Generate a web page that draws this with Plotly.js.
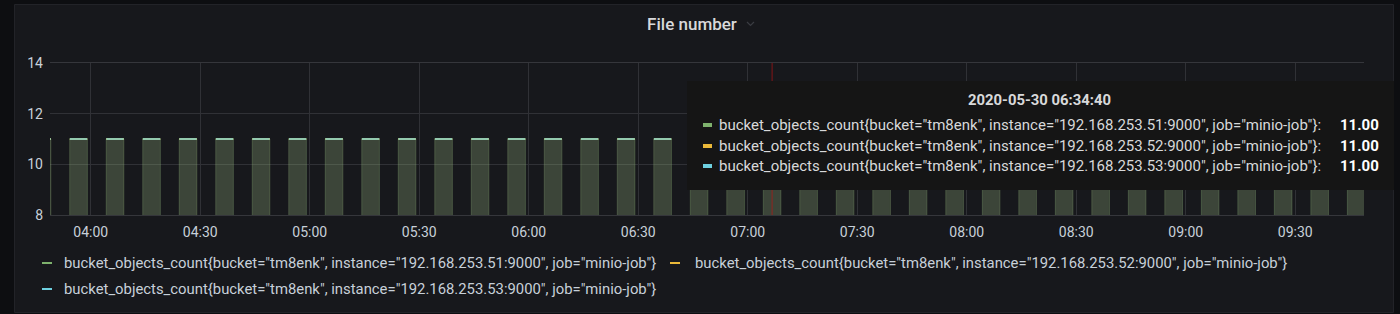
<!DOCTYPE html>
<html>
<head>
<meta charset="utf-8">
<script src="https://cdn.plot.ly/plotly-3.0.1.min.js"></script>
<style>
html,body{margin:0;padding:0;background:#0d0e11;}
#chart{width:1400px;height:314px;}
</style>
</head>
<body>
<div id="chart"></div>
<script>
// ---------- data ----------
const times = [
  '2020-05-30 03:46:40','2020-05-30 03:56:40',
  '2020-05-30 04:06:40','2020-05-30 04:16:40','2020-05-30 04:26:40','2020-05-30 04:36:40','2020-05-30 04:46:40','2020-05-30 04:56:40',
  '2020-05-30 05:06:40','2020-05-30 05:16:40','2020-05-30 05:26:40','2020-05-30 05:36:40','2020-05-30 05:46:40','2020-05-30 05:56:40',
  '2020-05-30 06:06:40','2020-05-30 06:16:40','2020-05-30 06:26:40','2020-05-30 06:36:40','2020-05-30 06:46:40','2020-05-30 06:56:40',
  '2020-05-30 07:06:40','2020-05-30 07:16:40','2020-05-30 07:26:40','2020-05-30 07:36:40','2020-05-30 07:46:40','2020-05-30 07:56:40',
  '2020-05-30 08:06:40','2020-05-30 08:16:40','2020-05-30 08:26:40','2020-05-30 08:36:40','2020-05-30 08:46:40','2020-05-30 08:56:40',
  '2020-05-30 09:06:40','2020-05-30 09:16:40','2020-05-30 09:26:40','2020-05-30 09:36:40','2020-05-30 09:46:40'
];
const seriesNames = [
  'bucket_objects_count{bucket="tm8enk", instance="192.168.253.51:9000", job="minio-job"}',
  'bucket_objects_count{bucket="tm8enk", instance="192.168.253.52:9000", job="minio-job"}',
  'bucket_objects_count{bucket="tm8enk", instance="192.168.253.53:9000", job="minio-job"}'
];
const values51 = [11,11,11,11,11,11,11,11,11,11,11,11,11,11,11,11,11,11,11,11,11,11,11,11,11,11,11,11,11,11,11,11,11,11,11,11,11];
const values52 = [11,11,11,11,11,11,11,11,11,11,11,11,11,11,11,11,11,11,11,11,11,11,11,11,11,11,11,11,11,11,11,11,11,11,11,11,11];
const values53 = [11,11,11,11,11,11,11,11,11,11,11,11,11,11,11,11,11,11,11,11,11,11,11,11,11,11,11,11,11,11,11,11,11,11,11,11,11];
const seriesValues = [values51, values52, values53];
const seriesColors = ['#7EB26D', '#EAB839', '#6ED0E0'];
const seriesFill = ['rgba(126,178,109,0.1)', 'rgba(234,184,57,0.11)', 'rgba(110,208,224,0.1)'];
const seriesEdge = ['rgba(126,178,109,0.1)', 'rgba(234,184,57,0.1)', 'rgba(110,208,224,0.1)'];
const topLineColors = ['rgba(126,178,109,1)', 'rgba(234,184,57,1)', 'rgba(110,208,224,0.7)'];
const chartTitle = 'File number';
const hoverIndex = 20;                       // bar under the crosshair
const tooltipTime = '2020-05-30 06:34:40';   // text shown in the tooltip header
const xRange = ['2020-05-30 03:48:51', '2020-05-30 09:48:49'];
const yRange = [8, 14];

// ---------- geometry helpers (pixel -> paper) ----------
const W = 1400, H = 314, ML = 50, MR = 36, MT = 63, MB = 99;
const PW = W - ML - MR, PH = H - MT - MB;
const px = x => (x - ML) / PW;
const py = y => (H - MB - y) / PH;

const FONT = 'Roboto, "Open Sans", sans-serif';
const TEXT_SIZE = 14.85;
const TIP_SIZE = 15;
const BAR_WIDTH_MS = 290000;

// ---------- traces ----------
const traces = [];
for (let i = 0; i < 3; i++) {
  traces.push({
    type: 'bar', name: seriesNames[i], x: times, y: seriesValues[i],
    width: BAR_WIDTH_MS,
    marker: { color: seriesFill[i], line: { color: seriesEdge[i], width: 1 } },
    showlegend: false, hoverinfo: 'skip'
  });
}
for (let i = 0; i < 3; i++) {
  traces.push({
    type: 'scatter', mode: 'markers', x: times, y: seriesValues[i],
    marker: { symbol: 'line-ew', size: 12.4, color: topLineColors[i],
              line: { color: topLineColors[i], width: 2 } },
    showlegend: false, hoverinfo: 'skip', cliponaxis: true
  });
}

// ---------- shapes ----------
const shapes = [];
// panel
shapes.push({ type: 'rect', xref: 'paper', yref: 'paper', layer: 'below',
  x0: px(14.5), x1: px(1393.5), y0: py(312.5), y1: py(4.5),
  fillcolor: '#17181c', line: { color: '#222328', width: 1 } });
// title chevron
shapes.push({ type: 'path', xref: 'paper', yref: 'paper', layer: 'below',
  path: `M ${px(747)} ${py(22)} L ${px(750.5)} ${py(25.5)} L ${px(754)} ${py(22)}`,
  line: { color: '#3a3c42', width: 1.2 } });
// crosshair
shapes.push({ type: 'line', xref: 'x', yref: 'paper', layer: 'above',
  x0: times[hoverIndex], x1: times[hoverIndex], y0: 0, y1: 1,
  line: { color: 'rgba(190,20,20,0.65)', width: 1 } });
// tooltip box
shapes.push({ type: 'rect', xref: 'paper', yref: 'paper', layer: 'above',
  x0: px(687), x1: px(1394), y0: py(190), y1: py(81),
  fillcolor: '#151515', line: { width: 0 } });
const rowY = [125, 146, 166];
for (let i = 0; i < 3; i++) {
  shapes.push({ type: 'rect', xref: 'paper', yref: 'paper', layer: 'above',
    x0: px(703), x1: px(712), y0: py(rowY[i] + 2), y1: py(rowY[i] - 2),
    fillcolor: seriesColors[i], line: { width: 0 } });
}
// legend dashes
const legendPos = [[42, 263, 62], [670, 263, 693], [42, 289, 62]];
for (let i = 0; i < 3; i++) {
  const [dx, dy] = legendPos[i];
  shapes.push({ type: 'line', xref: 'paper', yref: 'paper', layer: 'above',
    x0: px(dx), x1: px(dx + 10), y0: py(dy), y1: py(dy),
    line: { color: seriesColors[i], width: 2 } });
}

// ---------- annotations ----------
const annotations = [];
for (let i = 0; i < 3; i++) {
  const [, dy, tx] = legendPos[i];
  annotations.push({ xref: 'paper', yref: 'paper', x: px(tx), y: py(dy),
    xanchor: 'left', yanchor: 'middle', showarrow: false, text: seriesNames[i],
    font: { family: FONT, size: TEXT_SIZE, color: '#c7d0d9' } });
}
annotations.push({ xref: 'paper', yref: 'paper', x: px(1039), y: py(100),
  xanchor: 'center', yanchor: 'middle', showarrow: false, text: tooltipTime,
  font: { family: FONT, size: TEXT_SIZE, color: '#d8d9da', weight: 700 } });
for (let i = 0; i < 3; i++) {
  annotations.push({ xref: 'paper', yref: 'paper', x: px(716.5), y: py(rowY[i]),
    xanchor: 'left', yanchor: 'middle', showarrow: false, text: seriesNames[i] + ':',
    font: { family: FONT, size: TIP_SIZE, color: '#d8d9da' } });
  annotations.push({ xref: 'paper', yref: 'paper', x: px(1381), y: py(rowY[i]),
    xanchor: 'right', yanchor: 'middle', showarrow: false,
    text: seriesValues[i][hoverIndex].toFixed(2),
    font: { family: FONT, size: TIP_SIZE, color: '#ffffff', weight: 700 } });
}

const layout = {
  width: W, height: H,
  margin: { l: ML, r: MR, t: MT, b: MB, pad: 0 },
  paper_bgcolor: '#0d0e11', plot_bgcolor: 'rgba(0,0,0,0)',
  barmode: 'overlay', bargap: 0,
  showlegend: false, hovermode: false,
  title: { text: chartTitle, x: 692 / W, xanchor: 'center', y: 1 - 24 / H, yanchor: 'middle',
           font: { family: FONT, size: 17, color: '#d8d9da', weight: 500 } },
  xaxis: {
    type: 'date', range: xRange, tickformat: '%H:%M',
    tick0: '2020-05-30 04:00:00', dtick: 30 * 60 * 1000,
    showgrid: true, gridcolor: '#303136', gridwidth: 1,
    showline: true, mirror: true, linecolor: '#35363b', linewidth: 1,
    zeroline: false, ticks: '', ticklabelstandoff: 4,
    tickfont: { family: FONT, size: 14, color: '#c7d0d9' }
  },
  yaxis: {
    range: yRange, tick0: 8, dtick: 2,
    showgrid: true, gridcolor: '#303136', gridwidth: 1,
    showline: false, zeroline: false, ticks: '', ticklabelstandoff: 6,
    tickfont: { family: FONT, size: 14, color: '#c7d0d9' }
  },
  shapes: shapes, annotations: annotations
};

Plotly.newPlot('chart', traces, layout, { staticPlot: true, displayModeBar: false });
</script>
</body>
</html>
